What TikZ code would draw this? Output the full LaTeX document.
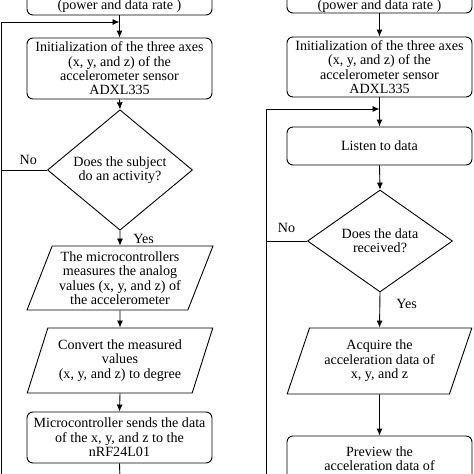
\documentclass[tikz,border=0pt]{standalone}
\usepackage{fontspec}
\setmainfont{Liberation Serif}
\usetikzlibrary{shapes.geometric,arrows.meta}
\tikzset{
  txt/.style={font=\fontsize{14.1}{14.4}\selectfont, align=center, inner sep=0pt},
  proc/.style={txt, draw, line width=0.9pt, rounded corners=6pt, minimum width=185pt},
  dec/.style={txt, draw, line width=0.9pt, diamond, minimum width=145pt, minimum height=102pt},
  io/.style={txt, draw, line width=0.9pt, trapezium, trapezium left angle=67, trapezium right angle=113,
    trapezium stretches=true, minimum width=186pt},
  line/.style={line width=0.9pt},
  arr/.style={line width=0.9pt, -{Latex[length=7pt,width=6pt]}},
  lbl/.style={txt}
}
\begin{document}
\begin{tikzpicture}[x=1pt,y=-1pt]
\useasboundingbox (0,0) rectangle (474,474);
\clip (0,0) rectangle (474,474);
% ---------- left column ----------
\node[proc, minimum height=70pt] (a1) at (119.5,-20) {};
\node[txt] (a1t) at (119.5,6.5) {(power and data rate )};
\node[proc, minimum height=61pt] (a2) at (119.5,68.5)
  {Initialization of the three axes\\(x, y, and z) of the\\accelerometer sensor\\ADXL335};
\node[dec] (a3) at (120,170) {Does the subject\\do an activity?};
\node[io, minimum height=64pt] (a4) at (120,278)
  {The microcontrollers\\measures the analog\\values (x, y, and z) of\\the accelerometer};
\node[io, minimum height=65pt] (a5) at (120,360.5)
  {Convert the measured\\values\\(x, y, and z) to degree};
\node[proc, minimum height=51pt] (a6) at (119.5,437.5)
  {Microcontroller sends the data\\of the x, y, and z to the\\nRF24L01};
\coordinate (aend) at (120,480);
\coordinate (ltop) at (1.5,22);
\coordinate (lbot) at (1.5,480);

\draw[arr] (a1.south) -- (a2.north);
\draw[arr] (a2.south) -- (a3.north);
\draw[arr] (a3.south) -- node[lbl, anchor=west, xshift=13pt, yshift=-1pt] {Yes} (a4.north);
\draw[arr] (a4.south) -- (a5.north);
\draw[arr] (a5.south) -- (a6.north);
\draw[line] (a6.south) -- (aend);
\draw[line] (a3.west) -- node[lbl, above, yshift=5pt, xshift=4pt] {No} (a3.west -| ltop);
\draw[arr] (lbot) -- (ltop) -- (ltop -| a2.north);

% ---------- right column ----------
\node[proc, minimum height=70pt] (b1) at (379.5,-22) {};
\node[txt] (b1t) at (379.5,6.5) {(power and data rate )};
\node[proc, minimum height=60pt] (b2) at (379.5,67)
  {Initialization of the three axes\\(x, y, and z) of the\\accelerometer sensor\\ADXL335};
\node[proc, minimum height=38pt] (b3) at (379.5,146) {Listen to data};
\node[dec] (b4) at (380,241) {Does the data\\received?};
\node[io, minimum height=66pt, minimum width=185pt] (b5) at (379.5,361)
  {Acquire the\\acceleration data of\\x, y, and z};
\node[proc, minimum height=80pt] (b6) at (379.5,476) {};
\node[txt] (b6t) at (379.5,458.5) {Preview the\\acceleration data of};
\coordinate (rtop) at (266,109);
\coordinate (rbot) at (266,480);

\draw[arr] (b1.south) -- (b2.north);
\draw[arr] (b2.south) -- (b3.north);
\draw[arr] (b3.south) -- (b4.north);
\draw[arr] (b4.south) -- node[lbl, pos=0.33, anchor=west, xshift=16pt] {Yes} (b5.north);
\draw[arr] (b5.south) -- (b6.north);
\draw[line] (b4.west) -- node[lbl, above, yshift=8pt] {No} (b4.west -| rtop);
\draw[arr] (rbot) -- (rtop) -- (rtop -| b2.south);
\end{tikzpicture}
\end{document}
